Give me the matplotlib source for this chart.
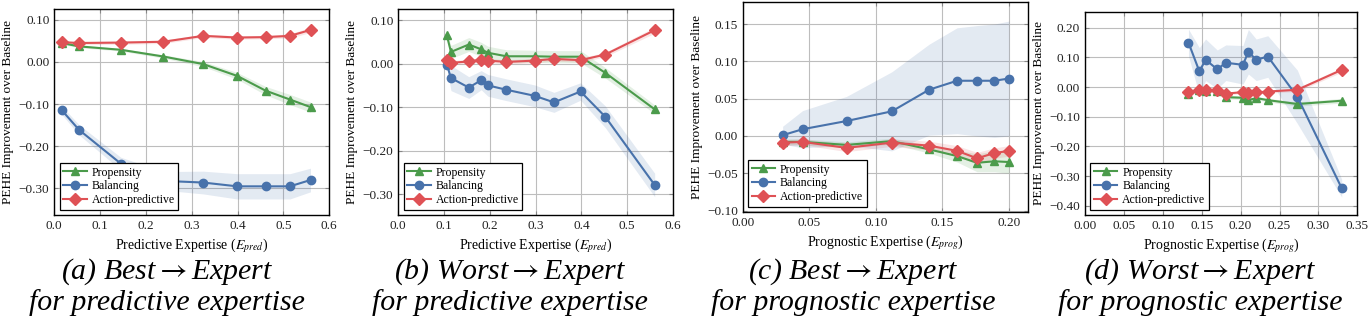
import numpy as np
import matplotlib
matplotlib.use('Agg')
import matplotlib.pyplot as plt
from matplotlib.ticker import FuncFormatter, MultipleLocator

plt.rcParams['font.family'] = ['Liberation Serif', 'DejaVu Serif']
plt.rcParams['mathtext.fontset'] = 'stix'

labels = ['Propensity', 'Balancing', 'Action-predictive']
colors = ['#4b9b4b', '#4872ab', '#df5155']
markers = ['^', 'o', 'D']

# (a) Best -> Expert, predictive expertise
a_x = [0.016, 0.054, 0.145, 0.238, 0.325, 0.399, 0.461, 0.514, 0.559]
a_prop = [0.045, 0.037, 0.029, 0.013, -0.005, -0.033, -0.068, -0.089, -0.107]
a_prop_sd = [0.003, 0.003, 0.003, 0.004, 0.006, 0.008, 0.010, 0.012, 0.012]
a_bal = [-0.114, -0.161, -0.241, -0.282, -0.286, -0.295, -0.295, -0.295, -0.280]
a_bal_sd = [0.010, 0.012, 0.015, 0.022, 0.027, 0.030, 0.030, 0.030, 0.028]
a_act = [0.047, 0.045, 0.046, 0.048, 0.062, 0.058, 0.059, 0.062, 0.076]
a_act_sd = [0.004, 0.004, 0.004, 0.004, 0.004, 0.004, 0.004, 0.005, 0.006]

# (b) Worst -> Expert, predictive expertise
b_x = [0.106, 0.115, 0.154, 0.181, 0.196, 0.236, 0.298, 0.340, 0.398, 0.452, 0.560]
b_prop = [0.065, 0.027, 0.044, 0.033, 0.025, 0.017, 0.017, 0.016, 0.016, -0.021, -0.105]
b_prop_sd = [0.005, 0.015, 0.016, 0.016, 0.015, 0.015, 0.014, 0.014, 0.014, 0.012, 0.010]
b_bal = [-0.002, -0.033, -0.055, -0.038, -0.050, -0.060, -0.074, -0.089, -0.064, -0.122, -0.279]
b_bal_sd = [0.005, 0.029, 0.025, 0.022, 0.025, 0.025, 0.025, 0.023, 0.020, 0.025, 0.027]
b_act = [0.008, 0.002, 0.005, 0.009, 0.007, 0.004, 0.007, 0.011, 0.008, 0.021, 0.077]
b_act_sd = [0.005, 0.005, 0.005, 0.005, 0.005, 0.005, 0.005, 0.005, 0.005, 0.005, 0.007]

# (c) Best -> Expert, prognostic expertise
c_x = [0.030, 0.045, 0.078, 0.112, 0.140, 0.161, 0.176, 0.189, 0.200]
c_prop = [-0.008, -0.008, -0.012, -0.007, -0.018, -0.027, -0.036, -0.034, -0.035]
c_prop_sd = [0.004, 0.004, 0.004, 0.004, 0.005, 0.008, 0.012, 0.014, 0.015]
c_bal = [0.001, 0.009, 0.020, 0.033, 0.062, 0.074, 0.074, 0.074, 0.077]
c_bal_sd = [0.012, 0.025, 0.033, 0.053, 0.061, 0.071, 0.074, 0.076, 0.077]
c_act = [-0.009, -0.008, -0.016, -0.009, -0.013, -0.020, -0.030, -0.023, -0.020]
c_act_sd = [0.004, 0.004, 0.005, 0.005, 0.006, 0.007, 0.008, 0.007, 0.007]

# (d) Worst -> Expert, prognostic expertise
d_x = [0.133, 0.147, 0.155, 0.170, 0.181, 0.203, 0.210, 0.220, 0.235, 0.273, 0.330]
d_prop = [-0.023, -0.010, -0.014, -0.012, -0.034, -0.036, -0.044, -0.037, -0.044, -0.057, -0.046]
d_prop_sd = [0.005, 0.005, 0.005, 0.005, 0.006, 0.006, 0.006, 0.006, 0.006, 0.007, 0.008]
d_bal = [0.150, 0.053, 0.092, 0.060, 0.082, 0.075, 0.119, 0.092, 0.103, -0.033, -0.341]
d_bal_sd = [0.045, 0.080, 0.070, 0.065, 0.060, 0.065, 0.075, 0.070, 0.070, 0.090, 0.030]
d_act = [-0.016, -0.010, -0.010, -0.010, -0.022, -0.017, -0.019, -0.018, -0.015, -0.009, 0.058]
d_act_sd = [0.005, 0.005, 0.005, 0.005, 0.005, 0.005, 0.005, 0.005, 0.005, 0.006, 0.008]

captions = [('(a) Best', 'for predictive expertise'),
            ('(b) Worst', 'for predictive expertise'),
            ('(c) Best', 'for prognostic expertise'),
            ('(d) Worst', 'for prognostic expertise')]
caption_x = [167, 510, 853, 1200]

def fmt(decimals):
    def f(v, pos):
        s = f'{round(v, decimals):.{decimals}f}'
        if float(s) == 0:
            s = s.lstrip('-')
        return s.replace('-', '\u2212')
    return FuncFormatter(f)

def draw(ax, x, series, sds, xlabel, xlim, ylim, xstep, ystep, xdec):
    x = np.array(x)
    for i in range(3):
        y = np.array(series[i]); sd = np.array(sds[i])
        ax.fill_between(x, y - sd, y + sd, color=colors[i], alpha=0.15, lw=0)
    for i in range(3):
        ax.plot(x, series[i], color=colors[i], marker=markers[i], ms=6, lw=1.5, label=labels[i])
    ax.set_xlim(*xlim); ax.set_ylim(*ylim)
    ax.xaxis.set_major_locator(MultipleLocator(xstep))
    ax.yaxis.set_major_locator(MultipleLocator(ystep))
    ax.xaxis.set_major_formatter(fmt(xdec))
    ax.yaxis.set_major_formatter(fmt(2))
    ax.grid(True, color='#bdbdbd', lw=0.8)
    ax.set_axisbelow(True)
    ax.tick_params(direction='in', length=3, top=True, right=True, labelsize=9.5,
                   color='#888888', labelcolor='#222222')
    for s in ax.spines.values():
        s.set_color('black'); s.set_linewidth(1.0)
    ax.set_xlabel(xlabel, fontsize=10, labelpad=3)
    ax.set_ylabel('PEHE Improvement over Baseline', fontsize=9.5, labelpad=3)
    leg = ax.legend(loc='lower left', fontsize=8.5, fancybox=False, framealpha=1,
                    edgecolor='black', borderaxespad=0.45, handlelength=2.0,
                    labelspacing=0.15, borderpad=0.3, handletextpad=0.4)
    leg.get_frame().set_linewidth(0.9)

W, H = 1370, 323
fig = plt.figure(figsize=(W / 100, H / 100), dpi=100)

def box(l, r, t, b):
    return [l / W, 1 - b / H, (r - l) / W, (b - t) / H]

ax_a = fig.add_axes(box(54.3, 329.3, 9.3, 215))
ax_b = fig.add_axes(box(398.3, 673, 9.3, 215))
ax_c = fig.add_axes(box(742.7, 1028.3, 1.7, 212))
ax_d = fig.add_axes(box(1085, 1357.3, 11.7, 215))

pred = r'Predictive Expertise ($E_{pred}$)'
prog = r'Prognostic Expertise ($E_{prog}$)'
draw(ax_a, a_x, [a_prop, a_bal, a_act], [a_prop_sd, a_bal_sd, a_act_sd], pred,
     (0, 0.6), (-0.363, 0.125), 0.1, 0.1, 1)
draw(ax_b, b_x, [b_prop, b_bal, b_act], [b_prop_sd, b_bal_sd, b_act_sd], pred,
     (0, 0.6), (-0.348, 0.125), 0.1, 0.1, 1)
draw(ax_c, c_x, [c_prop, c_bal, c_act], [c_prop_sd, c_bal_sd, c_act_sd], prog,
     (0, 0.2145), (-0.102, 0.18), 0.05, 0.05, 2)
draw(ax_d, d_x, [d_prop, d_bal, d_act], [d_prop_sd, d_bal_sd, d_act_sd], prog,
     (0, 0.35), (-0.431, 0.254), 0.05, 0.1, 2)

for (l1, l2), cx in zip(captions, caption_x):
    fig.text(cx / W, 1 - 279 / H, l1 + r'$\rightarrow$' + 'Expert', ha='center', va='baseline',
             fontsize=21.5, style='italic')
    fig.text(cx / W, 1 - 310 / H, l2, ha='center', va='baseline', fontsize=21.5, style='italic')

fig.savefig('out.png', dpi=100)
